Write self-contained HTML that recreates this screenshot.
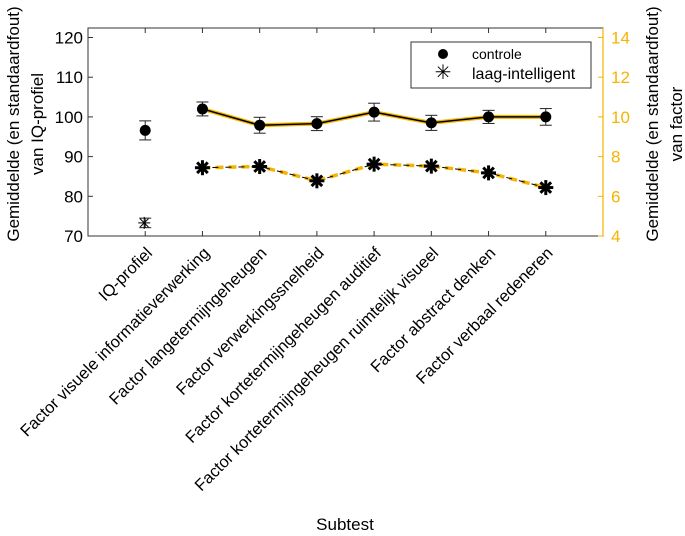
<!DOCTYPE html>
<html><head><meta charset="utf-8"><style>
body{margin:0;background:#fff}
svg{display:block;font-family:"Liberation Sans",sans-serif}
</style></head><body>
<svg id="chart" width="685" height="536" viewBox="0 0 685 536">
<rect x="88" y="28" width="515" height="208" fill="#fff" stroke="#333" stroke-width="1"/>
<g id="grid"></g>
<g id="marks"></g>
<text transform="translate(19,124) rotate(-90)" text-anchor="middle" font-size="17" fill="#000"><tspan x="0" y="0">Gemiddelde (en standaardfout)</tspan><tspan x="0" y="24">van IQ-profiel</tspan></text>
<text transform="translate(658,124) rotate(-90)" text-anchor="middle" font-size="17" fill="#000"><tspan x="0" y="0">Gemiddelde (en standaardfout)</tspan><tspan x="0" y="24">van factor</tspan></text>
<text x="345" y="530" text-anchor="middle" font-size="17">Subtest</text>
<g>
<rect x="411" y="42" width="180" height="46" fill="#fff" stroke="#333"/>
<circle cx="443" cy="54" r="5" fill="#000"/>
<text x="472" y="59" font-size="14">controle</text>
<text x="443" y="79" font-size="20" text-anchor="middle">✳</text>
<text x="472" y="79" font-size="16">laag-intelligent</text>
</g>
</svg>
<script>
const categories=["IQ-profiel","Factor visuele informatieverwerking","Factor langetermijngeheugen","Factor verwerkingssnelheid","Factor kortetermijngeheugen auditief","Factor kortetermijngeheugen ruimtelijk visueel","Factor abstract denken","Factor verbaal redeneren"];
const leftTicks=[70,80,90,100,110,120];
const rightTicks=[4,6,8,10,12,14];
const iqControle=96.6, iqControleErr=2.4;
const iqLaag=73.3, iqLaagErr=1.2;
const controleFactor=[10.4,9.58,9.66,10.24,9.7,10.0,10.0];
const controleErr=[0.35,0.4,0.35,0.45,0.38,0.33,0.42];
const laagFactor=[7.44,7.5,6.78,7.62,7.52,7.18,6.44];
const NS="http://www.w3.org/2000/svg";
const X0=88,X1=603,Y0=236;
const xs=i=>X0+(X1-X0)/9*(i+1);
const yl=v=>Y0-(v-70)*(Y0-37.5)/50;
const yr=v=>Y0-(v-4)*(Y0-37.5)/10;
const g=document.getElementById('grid'),m=document.getElementById('marks');
function el(t,a,p){const e=document.createElementNS(NS,t);for(const k in a)e.setAttribute(k,a[k]);p.appendChild(e);return e;}
leftTicks.forEach(v=>{
 const l=el('line',{x1:X0,x2:X0+5,y1:yl(v),y2:yl(v),stroke:'#333'},g);
 
 
 const t=el('text',{x:X0-5,y:yl(v)+6,'text-anchor':'end','font-size':17},g);t.textContent=v;
 
 
});
el('line',{x1:X1,x2:X1,y1:28,y2:236,stroke:'#f5b400','stroke-width':1.2},g);
rightTicks.forEach(v=>{
 const l=el('line',{x1:X1-5,x2:X1,y1:yr(v),y2:yr(v),stroke:'#f5b400'},g);
 
 
 const t=el('text',{x:X1+8,y:yr(v)+6,'font-size':17,fill:'#f5b400'},g);t.textContent=v;
 
 
});
categories.forEach((c,i)=>{
 const x=xs(i);
 el('line',{x1:x,x2:x,y1:Y0,y2:Y0-5,stroke:'#333'},g);
 el('line',{x1:x,x2:x,y1:28,y2:33,stroke:'#333'},g);
 const t=el('text',{x:0,y:0,'text-anchor':'end','font-size':16.5,transform:`translate(${x+8},${Y0+18}) rotate(-45)`},g);
 t.textContent=c;
 
 
});
function errbar(x,y1,y2){el('line',{x1:x,x2:x,y1:y1,y2:y2,stroke:'#222'},m);el('line',{x1:x-6,x2:x+6,y1:y1,y2:y1,stroke:'#222'},m);el('line',{x1:x-6,x2:x+6,y1:y2,y2:y2,stroke:'#222'},m);}
function star(x,y,r,w,name){const s=el('g',{},m);for(let k=0;k<4;k++){const a=k*Math.PI/4;el('line',{x1:x-r*Math.cos(a),y1:y-r*Math.sin(a),x2:x+r*Math.cos(a),y2:y+r*Math.sin(a),stroke:'#000','stroke-width':w},s);}
 
 }
errbar(xs(0),yl(iqControle-iqControleErr),yl(iqControle+iqControleErr));
const c0=el('circle',{cx:xs(0),cy:yl(iqControle),r:5.5,fill:'#000'},m);


errbar(xs(0),yl(iqLaag-iqLaagErr),yl(iqLaag+iqLaagErr));
star(xs(0)-1,yl(iqLaag),6,1,'iq-laag-point');
const cp=controleFactor.map((v,i)=>xs(i+1)+','+yr(v)).join(' ');
el('polyline',{points:cp,fill:'none',stroke:'#f5b400','stroke-width':4},m);
const cl=el('polyline',{points:cp,fill:'none',stroke:'#000','stroke-width':1.5},m);


const lp=laagFactor.map((v,i)=>xs(i+1)+','+yr(v)).join(' ');
el('polyline',{points:lp,fill:'none',stroke:'#f5b400','stroke-width':3.5,'stroke-dasharray':'8 5'},m);
const ll=el('polyline',{points:lp,fill:'none',stroke:'#000','stroke-width':1,'stroke-dasharray':'6 7','stroke-dashoffset':'3'},m);


controleFactor.forEach((v,i)=>{
 errbar(xs(i+1),yr(v-controleErr[i]),yr(v+controleErr[i]));
 const c=el('circle',{cx:xs(i+1),cy:yr(v),r:5.5,fill:'#000'},m);
 
 
});
laagFactor.forEach((v,i)=>star(xs(i+1),yr(v),7.5,3,'laag-point'));
</script>
</body></html>
